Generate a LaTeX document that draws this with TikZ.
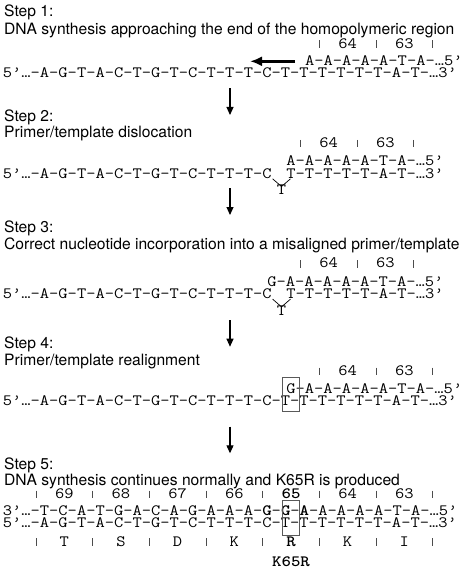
\documentclass[tikz,border=0pt]{standalone}
\usepackage{fontspec}
\setmainfont{TeX Gyre Heros}
\usepackage{graphicx}
\usetikzlibrary{arrows.meta}
\newcommand{\mono}[1]{\scalebox{1.142857}[1]{\fontsize{15.74}{16}\selectfont\ttfamily #1}}
\tikzset{
  seq/.style={anchor=base west, inner sep=0pt, outer sep=0pt},
  num/.style={anchor=base, inner sep=0pt, outer sep=0pt},
  lab/.style={anchor=base west, inner sep=0pt, font=\fontsize{15.63}{18}\selectfont},
  tick/.style={line width=0.7pt, draw=black!70},
  flow/.style={line width=1.1pt, -{Triangle[length=8pt,width=7pt]}},
  hl/.style={draw=black!65, line width=0.9pt},
  loopline/.style={line width=0.7pt},
  primer/.style={line width=3pt, -{Latex[length=12pt,width=10pt]}},
}
\begin{document}
\begin{tikzpicture}[x=1pt,y=-1pt]
\fill[white] (0,0) rectangle (467,569);
\useasboundingbox (0,0) rectangle (467,569);

% ---------- Step 1
\node[lab] (s1) at (4,16.7) {Step 1:};
\node[lab] (d1) at (4,35) {DNA synthesis approaching the end of the homopolymeric region};
\foreach \x in {319.3,376.0,432.7} \draw[tick] (\x,40.5) -- (\x,48);
\node[num] (n1a) at (347.6,48.5) {\mono{64}};
\node[num] (n1b) at (404.3,48.5) {\mono{63}};
\node[seq] (t1) at (305.1,65.3) {\mono{A–A–A–A–A–T–A–…5’}};
\node[seq] (b1) at (2.9,77.6) {\mono{5’…–A–G–T–A–C–T–G–T–C–T–T–T–C–T–T–T–T–T–T–A–T–…3’}};
\coordinate (p1s) at (295,61.3);
\coordinate (p1e) at (250,61.3);
\draw[primer] (p1s) -- (p1e);

\coordinate (a1s) at (230,88.3);
\coordinate (a1e) at (230,115);
\draw[flow] (a1s) -- (a1e);

% ---------- Step 2
\node[lab] (s2) at (4,121.2) {Step 2:};
\node[lab] (d2) at (4,137.5) {Primer/template dislocation};
\foreach \x in {300.4,357.0,413.7} \draw[tick] (\x,140) -- (\x,147.5);
\node[num] (n2a) at (328.7,147.5) {\mono{64}};
\node[num] (n2b) at (385.4,147.5) {\mono{63}};
\node[seq] (t2) at (286.25,165.9) {\mono{A–A–A–A–A–T–A–…5’}};
\node[seq] (b2l) at (2.9,178.2) {\mono{5’…–A–G–T–A–C–T–G–T–C–T–T–T–C}};
\node[seq] (b2r) at (286.25,178.2) {\mono{T–T–T–T–T–A–T–…3’}};
\node[num] (l2) at (281.5,194.7) {\mono{T}};
\coordinate (v2a) at (272.6,178.8);
\coordinate (v2b) at (281.5,186.5);
\coordinate (v2c) at (290.5,178.8);
\draw[loopline] (v2a) -- (v2b) -- (v2c);

\coordinate (a2s) at (230,188.5);
\coordinate (a2e) at (230,215);
\draw[flow] (a2s) -- (a2e);

% ---------- Step 3
\node[lab] (s3) at (4,232.8) {Step 3:};
\node[lab] (d3) at (4,249) {Correct nucleotide incorporation into a misaligned primer/template};
\foreach \x in {300.4,357.0,413.7} \draw[tick] (\x,260) -- (\x,267.5);
\node[num] (n3a) at (328.7,267.5) {\mono{64}};
\node[num] (n3b) at (385.4,267.5) {\mono{63}};
\node[seq] (t3) at (267.4,286.2) {\mono{G–A–A–A–A–A–T–A–…5’}};
\node[seq] (b3l) at (2.9,298.5) {\mono{5’…–A–G–T–A–C–T–G–T–C–T–T–T–C}};
\node[seq] (b3r) at (286.25,298.5) {\mono{T–T–T–T–T–A–T–…3’}};
\node[num] (l3) at (281.5,315.2) {\mono{T}};
\coordinate (v3a) at (272.6,299.1);
\coordinate (v3b) at (281.5,306.9);
\coordinate (v3c) at (290.5,299.1);
\draw[loopline] (v3a) -- (v3b) -- (v3c);

\coordinate (a3s) at (230,320);
\coordinate (a3e) at (230,346.7);
\draw[flow] (a3s) -- (a3e);

% ---------- Step 4
\node[lab] (s4) at (4,348) {Step 4:};
\node[lab] (d4) at (4,365) {Primer/template realignment};
\foreach \x in {319.3,376.0,432.7} \draw[tick] (\x,367.5) -- (\x,375);
\node[num] (n4a) at (347.6,375.3) {\mono{64}};
\node[num] (n4b) at (404.3,375.3) {\mono{63}};
\node[seq] (t4) at (286.25,393.3) {\mono{G–A–A–A–A–A–T–A–…5’}};
\node[seq] (b4) at (2.9,405.7) {\mono{5’…–A–G–T–A–C–T–G–T–C–T–T–T–C–T–T–T–T–T–T–A–T–…3’}};
\draw[hl] (282,377.5) rectangle (299,411.5);

\coordinate (a4s) at (230,426.7);
\coordinate (a4e) at (230,453.3);
\draw[flow] (a4s) -- (a4e);

% ---------- Step 5
\node[lab] (s5) at (4,469.5) {Step 5:};
\node[lab] (d5) at (4,485.5) {DNA synthesis continues normally and K65R is produced};
\foreach \x in {36.0,92.6,149.3,206.0,262.6,319.3,376.0,432.7} {
  \draw[tick] (\x,490.5) -- (\x,497.5);
  \draw[tick] (\x,538.3) -- (\x,546.3);
}
\node[num] (c69) at (64.3,498.3) {\mono{69}};
\node[num] (c68) at (121.0,498.3) {\mono{68}};
\node[num] (c67) at (177.6,498.3) {\mono{67}};
\node[num] (c66) at (234.3,498.3) {\mono{66}};
\node[num] (c65) at (291.0,498.3) {\mono{\bfseries 65}};
\node[num] (c64) at (347.6,498.3) {\mono{64}};
\node[num] (c63) at (404.3,498.3) {\mono{63}};
\node[seq] (t5) at (2.9,515.2) {\mono{3’…–T–C–A–T–G–A–C–A–G–A–A–A–{\bfseries G}–{\bfseries G}–{\bfseries A}–A–A–A–A–T–A–…5’}};
\node[seq] (b5) at (2.9,527.5) {\mono{5’…–A–G–T–A–C–T–G–T–C–T–T–T–C–T–T–T–T–T–T–A–T–…3’}};
\draw[hl] (282,500.8) rectangle (299,535);
\node[num] (aa69) at (64.3,546.5) {\mono{T}};
\node[num] (aa68) at (121.0,546.5) {\mono{S}};
\node[num] (aa67) at (177.6,546.5) {\mono{D}};
\node[num] (aa66) at (234.3,546.5) {\mono{K}};
\node[num] (aa65) at (291.0,546.5) {\mono{\bfseries R}};
\node[num] (aa64) at (347.6,546.5) {\mono{K}};
\node[num] (aa63) at (404.3,546.5) {\mono{I}};
\node[num] (k65r) at (291.0,566.5) {\mono{\bfseries K65R}};
\end{tikzpicture}
\end{document}
